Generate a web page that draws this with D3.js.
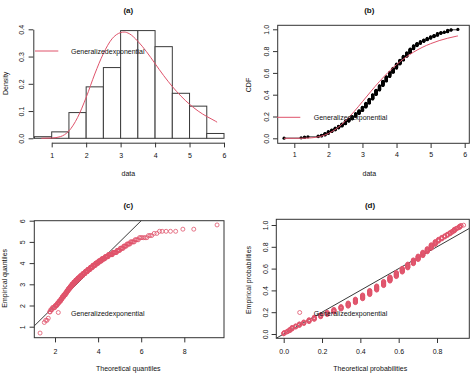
<!DOCTYPE html>
<html><head><meta charset="utf-8">
<script src="https://cdn.jsdelivr.net/npm/d3@7"></script>
<style>
html,body{margin:0;padding:0;background:#fff;}
svg{display:block;}
</style></head><body>
<svg id="chart" width="474" height="381"></svg>
<script>
// ---------------- data ----------------
// observed sample: distinct values and how many times each occurs
const obsValues = [0.7,1.2,1.3,1.4,1.7,1.8,1.9,2.0,2.1,2.2,2.3,2.4,2.5,2.6,2.7,2.8,2.9,3.0,
  3.1,3.2,3.3,3.4,3.5,3.6,3.7,3.8,3.9,4.0,4.1,4.2,4.3,4.4,4.5,4.6,4.7,4.8,4.9,5.0,
  5.1,5.2,5.3,5.4,5.5,5.6,5.8];
const obsCounts = [1,1,2,1,2,3,5,6,5,6,6,7,8,7,8,9,9,11,
  12,13,14,14,14,14,14,13,13,13,12,12,11,12,10,7,6,5,5,5,
  4,6,3,2,5,2,1];
const histBreaks = [0.5,1.0,1.5,2.0,2.5,3.0,3.5,4.0,4.5,5.0,5.5,6.0];
// fitted generalized exponential: density curve (panel a)
const denX = [0.7,1.0,1.25,1.5,1.75,2.0,2.25,2.5,2.75,3.0,3.1,3.25,3.5,3.75,4.0,4.25,4.5,4.75,5.0,5.25,5.5,5.75,5.8];
const denY = [0.0,0.001,0.006,0.027,0.076,0.150,0.236,0.311,0.365,0.388,0.390,0.384,0.356,0.318,0.274,0.230,0.190,0.155,0.125,0.100,0.080,0.063,0.059];
// fitted CDF (panel b, and mapping for panels c, d)
const fitX = [0.7,1.0,1.25,1.5,1.75,2.0,2.25,2.5,2.75,3.0,3.25,3.5,3.75,4.0,4.25,4.5,4.75,5.0,5.25,5.5,5.75,5.8,
  6.0,6.5,7.0,7.5,8.0,8.5,9.0,9.5,10.0];
const fitCdf = [0.0000003,0.000047,0.00066,0.00425,0.0162,0.0437,0.0914,0.1595,0.2435,0.3364,0.4309,0.5215,0.6040,0.6766,0.7387,0.7907,0.8334,0.8681,0.8960,0.9183,0.9360,0.9390,
  0.9499,0.9695,0.9815,0.9888,0.99321,0.99590,0.99752,0.99850,0.99910];
// tick labels
const ticksAx = [1,2,3,4,5,6], ticksAy = [0,0.1,0.2,0.3,0.4];
const ticksBx = [1,2,3,4,5,6], ticksBy = [0,0.2,0.4,0.6,0.8,1.0];
const ticksCx = [2,4,6,8],     ticksCy = [1,2,3,4,5,6];
const ticksDx = [0,0.2,0.4,0.6,0.8], ticksDy = [0,0.2,0.4,0.6,0.8,1.0];
const legendName = "Generalizedexponential";
const titles = ["(a)","(b)","(c)","(d)"];

// ---------------- drawing ----------------
const FONT = "'Liberation Sans', Arial, Helvetica, sans-serif";
const RED = "#DF536B", AX = "#333";
const svg = d3.select("#chart").attr("font-family", FONT);

const sample = obsValues.flatMap((v,i)=>d3.range(obsCounts[i]).map(()=>v));
const n = sample.length;
const pp = sample.map((v,i)=>(i+0.5)/n);
const cdfAt = d3.scaleLinear().domain(fitX).range(fitCdf);
const quantAt = d3.scaleLinear().domain(fitCdf).range(fitX);

function text(g, x, y, s, opts={}) {
  const t = g.append("text").attr("x",x).attr("y",y).attr("dy","0.35em")
    .attr("text-anchor","middle").attr("font-size", opts.size||7)
    .attr("fill","#111").text(s);
  if (opts.bold) t.attr("font-weight","bold");
  if (opts.rot) t.attr("transform",`rotate(-90,${x},${y})`);
  return t;
}
function styleAxis(g){ g.attr("font-size",7).attr("font-family",FONT).attr("color",AX); }
function bottomAxis(g, x, y0, ticks, fmt, labY, keepDomain){
  const a = g.append("g").attr("transform",`translate(0,${y0})`)
    .call(d3.axisBottom(x).tickValues(ticks).tickFormat(fmt).tickSize(4.7).tickSizeOuter(0));
  styleAxis(a);
  if(!keepDomain) a.select(".domain").remove();
  a.selectAll(".tick text").attr("y", labY - y0).attr("dy","0.35em").attr("fill","#111");
}
function leftAxis(g, y, x0, ticks, fmt, labX, keepDomain){
  const a = g.append("g").attr("transform",`translate(${x0},0)`)
    .call(d3.axisLeft(y).tickValues(ticks).tickFormat(fmt).tickSize(4.7).tickSizeOuter(0));
  styleAxis(a);
  if(!keepDomain) a.select(".domain").remove();
  a.selectAll(".tick text").attr("x",0).attr("y", labX - x0).attr("dy","0.35em")
    .attr("text-anchor","middle").attr("transform","rotate(-90)").attr("fill","#111");
}
function box(g, b){
  g.append("rect").attr("x",b.l).attr("y",b.t).attr("width",b.r-b.l).attr("height",b.b-b.t)
    .attr("fill","none").attr("stroke",AX).attr("stroke-width",1);
}
const f1 = d3.format(".1f"), f0 = d3.format("d");

// ---- panel (a): histogram + density ----
{
  const g = svg.append("g");
  const x = d3.scaleLinear().domain([1,6]).range([51.7,224]);
  const y = d3.scaleLinear().domain([0,0.4]).range([138.3,29.3]);
  const bins = d3.pairs(histBreaks).map(([lo,hi])=>{
    const c = d3.sum(obsValues.map((v,i)=> (v>lo+1e-9 && v<=hi+1e-9) ? obsCounts[i] : 0));
    return {lo,hi,d:c/(n*(hi-lo))};
  });
  g.selectAll("rect.bar").data(bins).join("rect").attr("class","bar")
    .attr("x",d=>x(d.lo)).attr("width",d=>x(d.hi)-x(d.lo))
    .attr("y",d=>y(d.d)).attr("height",d=>y(0)-y(d.d))
    .attr("fill","#fff").attr("stroke","#3a3a3a").attr("stroke-width",1);
  g.append("path").datum(d3.zip(denX,denY))
    .attr("d", d3.line().x(d=>x(d[0])).y(d=>y(d[1])).curve(d3.curveMonotoneX))
    .attr("fill","none").attr("stroke",RED).attr("stroke-width",1);
  bottomAxis(g, x, 142.7, ticksAx, f0, 156, true);
  leftAxis(g, y, 33.3, ticksAy, f1, 21.7, true);
  g.append("line").attr("x1",35).attr("x2",58.3).attr("y1",51).attr("y2",51).attr("stroke",RED).attr("stroke-width",1);
  text(g, 71, 51.5, legendName).attr("text-anchor","start");
  text(g, 128.3, 10, titles[0], {bold:true, size:8});
  text(g, 128.3, 173.3, "data");
  text(g, 6, 83.3, "Density", {rot:true});
}

// ---- panel (b): empirical & fitted CDF ----
{
  const g = svg.append("g");
  const b = {l:277.7, r:469.3, t:25.3, b:143.3};
  const x = d3.scaleLinear().domain([1,6]).range([294.3,464.7]);
  const y = d3.scaleLinear().domain([0,1]).range([138.3,29.3]);
  const steps = d3.range(n-1).map(i=>[sample[i],pp[i],sample[i+1]]);
  g.selectAll("line.step").data(steps).join("line").attr("class","step")
    .attr("x1",d=>x(d[0])).attr("x2",d=>x(d[2])).attr("y1",d=>y(d[1])).attr("y2",d=>y(d[1]))
    .attr("stroke","#000").attr("stroke-width",0.8);
  g.selectAll("circle").data(sample).join("circle")
    .attr("cx",d=>x(d)).attr("cy",(d,i)=>y(pp[i])).attr("r",1.6).attr("fill","#000");
  const curve = d3.zip(fitX,fitCdf).filter(d=>d[0]<=5.8+1e-9);
  g.append("path").datum(curve)
    .attr("d", d3.line().x(d=>x(d[0])).y(d=>y(d[1])).curve(d3.curveMonotoneX))
    .attr("fill","none").attr("stroke",RED).attr("stroke-width",1);
  box(g,b);
  bottomAxis(g, x, b.b, ticksBx, f0, 155);
  leftAxis(g, y, b.l, ticksBy, f1, 266.3);
  g.append("line").attr("x1",277).attr("x2",300.3).attr("y1",117.3).attr("y2",117.3).attr("stroke",RED).attr("stroke-width",1);
  text(g, 313.7, 118, legendName).attr("text-anchor","start");
  text(g, 369.3, 10, titles[1], {bold:true, size:8});
  text(g, 369.3, 173.3, "data");
  text(g, 248.7, 85, "CDF", {rot:true});
}

// ---- panel (c): Q-Q plot ----
{
  const g = svg.append("g");
  const b = {l:34.3, r:224, t:220.7, b:337.7};
  const x = d3.scaleLinear().domain([2,8]).range([55,184.3]);
  const y = d3.scaleLinear().domain([1,6]).range([326.7,220.7]);
  svg.append("clipPath").attr("id","clipC").append("rect")
    .attr("x",b.l).attr("y",b.t).attr("width",b.r-b.l).attr("height",b.b-b.t);
  g.append("line").attr("clip-path","url(#clipC)")
    .attr("x1",x(0)).attr("y1",y(0)).attr("x2",x(10)).attr("y2",y(10))
    .attr("stroke","#222").attr("stroke-width",0.9);
  g.selectAll("circle.pt").data(sample).join("circle").attr("class","pt")
    .attr("cx",(d,i)=>x(quantAt(pp[i]))).attr("cy",d=>y(d)).attr("r",2)
    .attr("fill","none").attr("stroke",RED).attr("stroke-width",0.8);
  box(g,b);
  bottomAxis(g, x, b.b, ticksCx, f0, 352);
  leftAxis(g, y, b.l, ticksCy, f0, 22.7);
  g.append("circle").attr("cx",58.3).attr("cy",312.5).attr("r",2).attr("fill","none").attr("stroke",RED).attr("stroke-width",0.8);
  text(g, 71, 313.5, legendName).attr("text-anchor","start");
  text(g, 128.3, 205, titles[2], {bold:true, size:8});
  text(g, 128.3, 368.3, "Theoretical quantiles");
  text(g, 5, 278.3, "Empirical quantiles", {rot:true});
}

// ---- panel (d): P-P plot ----
{
  const g = svg.append("g");
  const b = {l:276.3, r:469.3, t:219.3, b:338.3};
  const x = d3.scaleLinear().domain([0,0.8]).range([283.7,437]);
  const y = d3.scaleLinear().domain([0,1]).range([334,225]);
  svg.append("clipPath").attr("id","clipD").append("rect")
    .attr("x",b.l).attr("y",b.t).attr("width",b.r-b.l).attr("height",b.b-b.t);
  g.append("line").attr("clip-path","url(#clipD)")
    .attr("x1",x(-0.2)).attr("y1",y(-0.2)).attr("x2",x(1.2)).attr("y2",y(1.2))
    .attr("stroke","#222").attr("stroke-width",0.9);
  g.selectAll("circle.pt").data(sample).join("circle").attr("class","pt")
    .attr("cx",d=>x(cdfAt(d))).attr("cy",(d,i)=>y(pp[i])).attr("r",2)
    .attr("fill","none").attr("stroke",RED).attr("stroke-width",0.8);
  box(g,b);
  bottomAxis(g, x, b.b, ticksDx, f1, 352);
  leftAxis(g, y, b.l, ticksDy, f1, 265.3);
  g.append("circle").attr("cx",299.7).attr("cy",312.5).attr("r",2).attr("fill","none").attr("stroke",RED).attr("stroke-width",0.8);
  text(g, 313.7, 313.5, legendName).attr("text-anchor","start");
  text(g, 370, 205, titles[3], {bold:true, size:8});
  text(g, 370.3, 368.3, "Theoretical probabilities");
  text(g, 248.7, 280, "Empirical probabilities", {rot:true});
}
</script>
</body></html>
